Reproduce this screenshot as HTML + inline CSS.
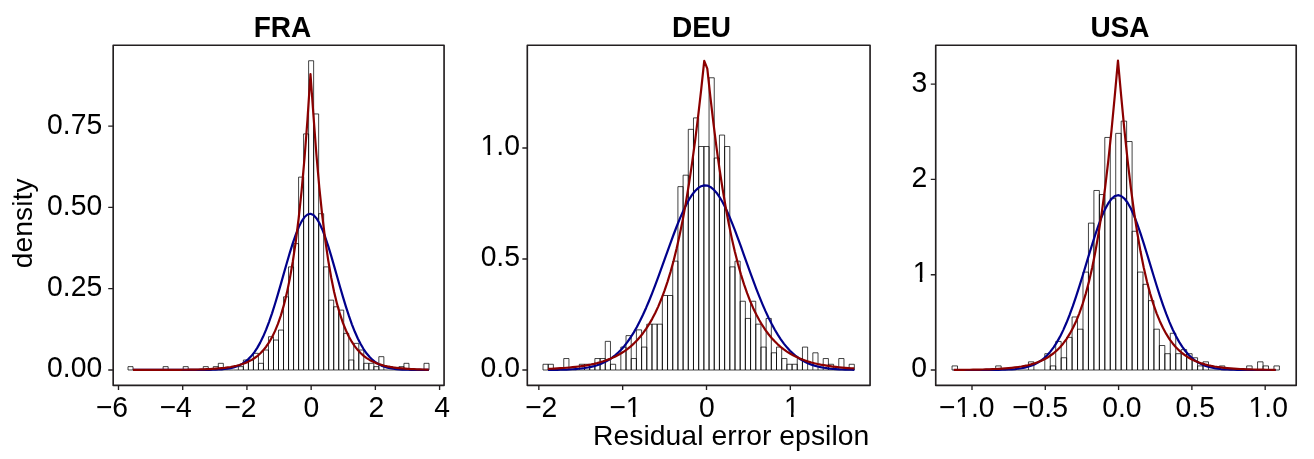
<!DOCTYPE html>
<html lang="en">
<head>
<meta charset="utf-8">
<title>Residual error densities</title>
<style>
html,body{margin:0;padding:0;background:#fff;}
body{width:1314px;height:459px;overflow:hidden;}
svg{display:block;}
</style>
</head>
<body>
<svg width="1314" height="459" viewBox="0 0 1314 459">
<rect width="1314" height="459" fill="#fff"/>
<defs><clipPath id="c_x2b" clipPathUnits="userSpaceOnUse"><path d="M-90 -40H90V-3.81 H-90ZM-90 -3.91H1.59V3H-90ZM7.46 -3.91H10.06V3H7.46ZM15.99 -3.91H90V3H15.99Z"/></clipPath><clipPath id="c_x2d" clipPathUnits="userSpaceOnUse"><path d="M-90 -40H90V-3.81 H-90ZM-90 -3.91H-6.67V3H-90ZM-0.8 -3.91H1.8V3H-0.8ZM7.73 -3.91H90V3H7.73Z"/></clipPath><clipPath id="c_x3a" clipPathUnits="userSpaceOnUse"><path d="M-90 -40H90V-3.81 H-90ZM-90 -3.91H-10.21V3H-90ZM-4.34 -3.91H-1.74V3H-4.34ZM4.19 -3.91H90V3H4.19Z"/></clipPath><clipPath id="c_x3e" clipPathUnits="userSpaceOnUse"><path d="M-90 -40H90V-3.81 H-90ZM-90 -3.91H-18.47V3H-90ZM-12.6 -3.91H-10V3H-12.6ZM-4.07 -3.91H90V3H-4.07Z"/></clipPath><clipPath id="c_y2c" clipPathUnits="userSpaceOnUse"><path d="M-90 -40H90V-3.81 H-90ZM-90 -3.91H-38.14V3H-90ZM-32.27 -3.91H-29.67V3H-32.27ZM-23.74 -3.91H90V3H-23.74Z"/></clipPath><clipPath id="c_y3b" clipPathUnits="userSpaceOnUse"><path d="M-90 -40H90V-3.81 H-90ZM-90 -3.91H-14.54V3H-90ZM-8.67 -3.91H-6.07V3H-8.67ZM-0.14 -3.91H90V3H-0.14Z"/></clipPath></defs>
<g>
<path d="M128 369.97h5.02v-3.33h-5.02zM133.02 369.97h5.02M138.03 369.97h5.02M143.05 369.97h5.02M148.07 369.97h5.02M153.09 369.97h5.02M158.1 369.97h5.02M163.12 369.97h5.02v-3.33h-5.02zM168.14 369.97h5.02M173.15 369.97h5.02M178.17 369.97h5.02M183.19 369.97h5.02v-3.33h-5.02zM188.2 369.97h5.02M193.22 369.97h5.02M198.24 369.97h5.02M203.25 369.97h5.02v-3.33h-5.02zM208.27 369.97h5.02M213.29 369.97h5.02v-3.33h-5.02zM218.31 369.97h5.02v-6.65h-5.02zM223.32 369.97h5.02M228.34 369.97h5.02M233.36 369.97h5.02M238.37 369.97h5.02v-3.33h-5.02zM243.39 369.97h5.02v-9.98h-5.02zM248.41 369.97h5.02v-9.98h-5.02zM253.43 369.97h5.02v-16.62h-5.02zM258.44 369.97h5.02v-6.65h-5.02zM263.46 369.97h5.02v-19.95h-5.02zM268.48 369.97h5.02v-33.25h-5.02zM273.49 369.97h5.02v-29.93h-5.02zM278.51 369.97h5.02v-39.9h-5.02zM283.53 369.97h5.02v-73.15h-5.02zM288.54 369.97h5.02v-103.08h-5.02zM293.56 369.97h5.02v-126.35h-5.02zM298.58 369.97h5.02v-192.85h-5.02zM303.6 369.97h5.02v-236.08h-5.02zM308.61 369.97h5.02v-309.23h-5.02zM313.63 369.97h5.02v-256.03h-5.02zM318.65 369.97h5.02v-156.28h-5.02zM323.66 369.97h5.02v-103.08h-5.02zM328.68 369.97h5.02v-69.83h-5.02zM333.7 369.97h5.02v-63.18h-5.02zM338.71 369.97h5.02v-59.85h-5.02zM343.73 369.97h5.02v-36.58h-5.02zM348.75 369.97h5.02v-9.98h-5.02zM353.76 369.97h5.02v-26.6h-5.02zM358.78 369.97h5.02v-19.95h-5.02zM363.8 369.97h5.02v-6.65h-5.02zM368.82 369.97h5.02v-6.65h-5.02zM373.83 369.97h5.02v-3.33h-5.02zM378.85 369.97h5.02v-13.3h-5.02zM383.87 369.97h5.02M388.88 369.97h5.02M393.9 369.97h5.02M398.92 369.97h5.02v-3.33h-5.02zM403.94 369.97h5.02v-6.65h-5.02zM408.95 369.97h5.02M413.97 369.97h5.02M418.99 369.97h5.02M424 369.97h5.02v-6.65h-5.02z" fill="#fff" stroke="#000" stroke-width="0.74" stroke-linejoin="miter"/>
<polyline points="133,369.95 135.96,369.95 138.92,369.95 141.87,369.95 144.83,369.95 147.79,369.95 150.75,369.95 153.71,369.95 156.66,369.95 159.62,369.95 162.58,369.95 165.54,369.95 168.5,369.95 171.45,369.95 174.41,369.95 177.37,369.95 180.33,369.95 183.29,369.95 186.24,369.95 189.2,369.94 192.16,369.94 195.12,369.94 198.08,369.93 201.03,369.91 203.99,369.89 206.95,369.86 209.91,369.81 212.87,369.74 215.82,369.64 218.78,369.5 221.74,369.29 224.7,369.01 227.66,368.62 230.61,368.08 233.57,367.37 236.53,366.43 239.49,365.2 242.45,363.62 245.4,361.63 248.36,359.13 251.32,356.06 254.28,352.33 257.24,347.88 260.19,342.63 263.15,336.56 266.11,329.63 269.07,321.86 272.03,313.3 274.98,304.02 277.94,294.15 280.9,283.88 283.86,273.41 286.82,262.98 289.77,252.88 292.73,243.38 295.69,234.79 298.65,227.37 301.61,221.38 304.56,217.03 307.52,214.47 310.48,213.8 313.44,215.04 316.4,218.15 319.35,223.01 322.31,229.45 325.27,237.25 328.23,246.15 331.19,255.86 334.14,266.09 337.1,276.56 340.06,286.99 343.02,297.16 345.98,306.87 348.93,315.94 351.89,324.28 354.85,331.8 357.81,338.47 360.77,344.29 363.72,349.29 366.68,353.52 369.64,357.04 372.6,359.93 375.56,362.27 378.51,364.14 381.47,365.6 384.43,366.74 387.39,367.61 390.35,368.26 393.3,368.75 396.26,369.1 399.22,369.36 402.18,369.55 405.14,369.68 408.09,369.77 411.05,369.83 414.01,369.87 416.97,369.9 419.93,369.92 422.88,369.93 425.84,369.94 428.8,369.94" fill="none" stroke="#00008b" stroke-width="2.2" stroke-linejoin="round" stroke-linecap="butt"/>
<polyline points="133,369.94 135.96,369.94 138.92,369.94 141.87,369.93 144.83,369.93 147.79,369.93 150.75,369.92 153.71,369.92 156.66,369.91 159.62,369.9 162.58,369.89 165.54,369.88 168.5,369.87 171.45,369.86 174.41,369.84 177.37,369.82 180.33,369.79 183.29,369.76 186.24,369.73 189.2,369.69 192.16,369.64 195.12,369.58 198.08,369.51 201.03,369.42 203.99,369.33 206.95,369.21 209.91,369.07 212.87,368.9 215.82,368.7 218.78,368.47 221.74,368.19 224.7,367.86 227.66,367.46 230.61,367 233.57,366.44 236.53,365.78 239.49,365 242.45,364.07 245.4,362.96 248.36,361.65 251.32,360.1 254.28,358.25 257.24,356.06 260.19,353.46 263.15,350.38 266.11,346.72 269.07,342.38 272.03,337.23 274.98,331.13 277.94,323.9 280.9,315.32 283.86,305.17 286.82,293.13 289.77,278.89 292.73,262.02 295.69,242.08 298.65,218.49 301.61,190.63 304.56,157.77 307.52,119.09 310.48,73.98 313.44,115.26 316.4,154.5 319.35,187.86 322.31,216.14 325.27,240.09 328.23,260.34 331.19,277.47 334.14,291.93 337.1,304.15 340.06,314.47 343.02,323.17 345.98,330.52 348.93,336.72 351.89,341.94 354.85,346.35 357.81,350.07 360.77,353.2 363.72,355.84 366.68,358.07 369.64,359.94 372.6,361.52 375.56,362.85 378.51,363.97 381.47,364.92 384.43,365.72 387.39,366.39 390.35,366.95 393.3,367.42 396.26,367.82 399.22,368.16 402.18,368.44 405.14,368.68 408.09,368.88 411.05,369.05 414.01,369.2 416.97,369.32 419.93,369.42 422.88,369.5 425.84,369.57 428.8,369.63" fill="none" stroke="#8b0000" stroke-width="2.2" stroke-linejoin="round" stroke-linecap="butt"/>
<rect x="113.18" y="45.2" width="330.89" height="340.2" fill="none" stroke="#231f20" stroke-width="1.65" stroke-linejoin="round"/>
<path d="M118.49 385.4v4.5M182.71 385.4v4.5M246.93 385.4v4.5M311.15 385.4v4.5M375.37 385.4v4.5M439.59 385.4v4.5M113.18 369.95h-4.95M113.18 288.65h-4.95M113.18 207.35h-4.95M113.18 126.05h-4.95" fill="none" stroke="#231f20" stroke-width="1.35"/>
</g>
<g>
<path d="M543 370h5.19v-5.73h-5.19zM548.19 370h5.19v-5.73h-5.19zM553.38 370h5.19M558.57 370h5.19M563.76 370h5.19v-11.46h-5.19zM568.95 370h5.19M574.13 370h5.19M579.32 370h5.19v-5.73h-5.19zM584.51 370h5.19v-5.73h-5.19zM589.7 370h5.19v-5.73h-5.19zM594.89 370h5.19v-11.46h-5.19zM600.08 370h5.19v-11.46h-5.19zM605.27 370h5.19v-28.65h-5.19zM610.46 370h5.19v-5.73h-5.19zM615.65 370h5.19M620.84 370h5.19v-22.92h-5.19zM626.02 370h5.19v-34.38h-5.19zM631.21 370h5.19v-11.46h-5.19zM636.4 370h5.19v-40.11h-5.19zM641.59 370h5.19v-22.92h-5.19zM646.78 370h5.19v-45.84h-5.19zM651.97 370h5.19v-45.84h-5.19zM657.16 370h5.19v-45.84h-5.19zM662.35 370h5.19v-74.49h-5.19zM667.54 370h5.19v-74.49h-5.19zM672.73 370h5.19v-108.87h-5.19zM677.91 370h5.19v-183.36h-5.19zM683.1 370h5.19v-194.82h-5.19zM688.29 370h5.19v-240.66h-5.19zM693.48 370h5.19v-252.12h-5.19zM698.67 370h5.19v-223.47h-5.19zM703.86 370h5.19v-223.47h-5.19zM709.05 370h5.19v-292.23h-5.19zM714.24 370h5.19v-212.01h-5.19zM719.43 370h5.19v-234.93h-5.19zM724.62 370h5.19v-223.47h-5.19zM729.8 370h5.19v-103.14h-5.19zM734.99 370h5.19v-108.87h-5.19zM740.18 370h5.19v-68.76h-5.19zM745.37 370h5.19v-51.57h-5.19zM750.56 370h5.19v-68.76h-5.19zM755.75 370h5.19v-45.84h-5.19zM760.94 370h5.19v-22.92h-5.19zM766.13 370h5.19v-51.57h-5.19zM771.32 370h5.19v-17.19h-5.19zM776.5 370h5.19v-22.92h-5.19zM781.69 370h5.19v-11.46h-5.19zM786.88 370h5.19v-5.73h-5.19zM792.07 370h5.19v-5.73h-5.19zM797.26 370h5.19v-11.46h-5.19zM802.45 370h5.19v-22.92h-5.19zM807.64 370h5.19M812.83 370h5.19v-17.19h-5.19zM818.02 370h5.19M823.21 370h5.19v-11.46h-5.19zM828.39 370h5.19v-5.73h-5.19zM833.58 370h5.19M838.77 370h5.19v-11.46h-5.19zM843.96 370h5.19M849.15 370h5.19v-5.73h-5.19z" fill="#fff" stroke="#000" stroke-width="0.74" stroke-linejoin="miter"/>
<polyline points="548.06,369.92 551.12,369.89 554.18,369.85 557.25,369.8 560.31,369.74 563.37,369.66 566.43,369.55 569.5,369.42 572.56,369.24 575.62,369.03 578.68,368.76 581.75,368.42 584.81,368.01 587.87,367.5 590.93,366.87 594,366.12 597.06,365.21 600.12,364.13 603.18,362.84 606.25,361.32 609.31,359.54 612.37,357.47 615.43,355.08 618.5,352.33 621.56,349.2 624.62,345.66 627.68,341.68 630.74,337.25 633.81,332.34 636.87,326.95 639.93,321.08 642.99,314.74 646.06,307.93 649.12,300.7 652.18,293.07 655.24,285.11 658.31,276.87 661.37,268.44 664.43,259.88 667.49,251.3 670.56,242.81 673.62,234.5 676.68,226.5 679.74,218.92 682.81,211.86 685.87,205.45 688.93,199.78 691.99,194.94 695.06,191.02 698.12,188.09 701.18,186.19 704.24,185.35 707.3,185.6 710.37,186.93 713.43,189.32 716.49,192.71 719.55,197.06 722.62,202.3 725.68,208.32 728.74,215.04 731.8,222.36 734.87,230.15 737.93,238.31 740.99,246.71 744.05,255.26 747.12,263.84 750.18,272.35 753.24,280.71 756.3,288.83 759.37,296.64 762.43,304.09 765.49,311.13 768.55,317.72 771.62,323.85 774.68,329.5 777.74,334.67 780.8,339.35 783.86,343.57 786.93,347.35 789.99,350.7 793.05,353.65 796.11,356.23 799.18,358.47 802.24,360.4 805.3,362.06 808.36,363.46 811.43,364.65 814.49,365.65 817.55,366.49 820.61,367.18 823.68,367.74 826.74,368.21 829.8,368.59 832.86,368.89 835.93,369.13 838.99,369.33 842.05,369.48 845.11,369.6 848.18,369.7 851.24,369.77 854.3,369.83" fill="none" stroke="#00008b" stroke-width="2.2" stroke-linejoin="round" stroke-linecap="butt"/>
<polyline points="548.06,368.87 551.12,368.73 554.18,368.58 557.25,368.41 560.31,368.21 563.37,368 566.43,367.76 569.5,367.49 572.56,367.19 575.62,366.85 578.68,366.47 581.75,366.05 584.81,365.58 587.87,365.05 590.93,364.47 594,363.81 597.06,363.07 600.12,362.25 603.18,361.32 606.25,360.3 609.31,359.15 612.37,357.86 615.43,356.43 618.5,354.83 621.56,353.04 624.62,351.05 627.68,348.82 630.74,346.34 633.81,343.57 636.87,340.48 639.93,337.03 642.99,333.19 646.06,328.91 649.12,324.15 652.18,318.84 655.24,312.93 658.31,306.35 661.37,299.04 664.43,290.9 667.49,281.86 670.56,271.82 673.62,260.67 676.68,248.31 679.74,234.6 682.81,219.42 685.87,202.63 688.93,184.07 691.99,163.62 695.06,141.11 698.12,116.44 701.18,89.57 704.24,60.78 707.3,68.56 710.37,96.92 713.43,123.21 716.49,147.3 719.55,169.24 722.62,189.18 725.68,207.25 728.74,223.6 731.8,238.38 734.87,251.72 737.93,263.75 740.99,274.59 744.05,284.36 747.12,293.15 750.18,301.06 753.24,308.17 756.3,314.56 759.37,320.31 762.43,325.46 765.49,330.1 768.55,334.25 771.62,337.98 774.68,341.33 777.74,344.33 780.8,347.02 783.86,349.44 786.93,351.6 789.99,353.54 793.05,355.27 796.11,356.83 799.18,358.22 802.24,359.46 805.3,360.58 808.36,361.58 811.43,362.47 814.49,363.27 817.55,363.99 820.61,364.63 823.68,365.2 826.74,365.71 829.8,366.17 832.86,366.58 835.93,366.94 838.99,367.27 842.05,367.56 845.11,367.83 848.18,368.06 851.24,368.27 854.3,368.45" fill="none" stroke="#8b0000" stroke-width="2.2" stroke-linejoin="round" stroke-linecap="butt"/>
<rect x="527.3" y="45.2" width="342.77" height="340.2" fill="none" stroke="#231f20" stroke-width="1.65" stroke-linejoin="round"/>
<path d="M538.84 385.4v4.5M622.67 385.4v4.5M706.5 385.4v4.5M790.33 385.4v4.5M527.3 370.03h-4.95M527.3 259.03h-4.95M527.3 148.03h-4.95" fill="none" stroke="#231f20" stroke-width="1.35"/>
</g>
<g>
<path d="M952.05 370h5.46v-4.08h-5.46zM957.51 370h5.46M962.96 370h5.46M968.42 370h5.46M973.87 370h5.46M979.33 370h5.46M984.78 370h5.46M990.24 370h5.46M995.7 370h5.46v-4.08h-5.46zM1001.15 370h5.46M1006.61 370h5.46M1012.06 370h5.46M1017.52 370h5.46M1022.98 370h5.46M1028.43 370h5.46v-8.16h-5.46zM1033.89 370h5.46M1039.34 370h5.46M1044.8 370h5.46v-16.32h-5.46zM1050.25 370h5.46v-4.08h-5.46zM1055.71 370h5.46v-28.56h-5.46zM1061.17 370h5.46v-12.24h-5.46zM1066.62 370h5.46v-32.64h-5.46zM1072.08 370h5.46v-53.04h-5.46zM1077.53 370h5.46v-40.8h-5.46zM1082.99 370h5.46v-97.92h-5.46zM1088.44 370h5.46v-146.88h-5.46zM1093.9 370h5.46v-179.52h-5.46zM1099.36 370h5.46v-175.44h-5.46zM1104.81 370h5.46v-232.56h-5.46zM1110.27 370h5.46v-171.36h-5.46zM1115.72 370h5.46v-236.64h-5.46zM1121.18 370h5.46v-248.88h-5.46zM1126.64 370h5.46v-228.48h-5.46zM1132.09 370h5.46v-138.72h-5.46zM1137.55 370h5.46v-97.92h-5.46zM1143 370h5.46v-85.68h-5.46zM1148.46 370h5.46v-69.36h-5.46zM1153.91 370h5.46v-40.8h-5.46zM1159.37 370h5.46v-24.48h-5.46zM1164.83 370h5.46v-16.32h-5.46zM1170.28 370h5.46v-36.72h-5.46zM1175.74 370h5.46v-16.32h-5.46zM1181.19 370h5.46v-20.4h-5.46zM1186.65 370h5.46v-16.32h-5.46zM1192.11 370h5.46v-12.24h-5.46zM1197.56 370h5.46v-4.08h-5.46zM1203.02 370h5.46v-8.16h-5.46zM1208.47 370h5.46M1213.93 370h5.46M1219.38 370h5.46v-4.08h-5.46zM1224.84 370h5.46M1230.3 370h5.46M1235.75 370h5.46M1241.21 370h5.46M1246.66 370h5.46v-4.08h-5.46zM1252.12 370h5.46M1257.57 370h5.46v-8.16h-5.46zM1263.03 370h5.46v-4.08h-5.46zM1268.49 370h5.46M1273.94 370h5.46v-4.08h-5.46z" fill="#fff" stroke="#000" stroke-width="0.74" stroke-linejoin="miter"/>
<polyline points="953.8,370 957.02,370 960.24,370 963.46,370 966.68,370 969.89,370 973.11,369.99 976.33,369.99 979.55,369.99 982.77,369.98 985.99,369.97 989.21,369.95 992.43,369.93 995.65,369.89 998.87,369.84 1002.08,369.76 1005.3,369.66 1008.52,369.52 1011.74,369.32 1014.96,369.06 1018.18,368.7 1021.4,368.23 1024.62,367.61 1027.84,366.8 1031.06,365.77 1034.28,364.45 1037.49,362.81 1040.71,360.77 1043.93,358.27 1047.15,355.24 1050.37,351.63 1053.59,347.35 1056.81,342.37 1060.03,336.64 1063.25,330.12 1066.46,322.81 1069.68,314.72 1072.9,305.9 1076.12,296.43 1079.34,286.42 1082.56,276 1085.78,265.36 1089,254.69 1092.22,244.22 1095.44,234.18 1098.65,224.83 1101.87,216.41 1105.09,209.14 1108.31,203.23 1111.53,198.86 1114.75,196.14 1117.97,195.18 1121.19,195.99 1124.41,198.54 1127.63,202.77 1130.85,208.55 1134.06,215.7 1137.28,224.03 1140.5,233.31 1143.72,243.29 1146.94,253.74 1150.16,264.4 1153.38,275.05 1156.6,285.5 1159.82,295.55 1163.04,305.08 1166.25,313.96 1169.47,322.11 1172.69,329.49 1175.91,336.08 1179.13,341.89 1182.35,346.94 1185.57,351.27 1188.79,354.94 1192.01,358.02 1195.22,360.56 1198.44,362.64 1201.66,364.32 1204.88,365.66 1208.1,366.72 1211.32,367.54 1214.54,368.18 1217.76,368.66 1220.98,369.03 1224.2,369.3 1227.41,369.5 1230.63,369.65 1233.85,369.76 1237.07,369.83 1240.29,369.89 1243.51,369.92 1246.73,369.95 1249.95,369.97 1253.17,369.98 1256.39,369.99 1259.61,369.99 1262.82,369.99 1266.04,370 1269.26,370 1272.48,370 1275.7,370" fill="none" stroke="#00008b" stroke-width="2.2" stroke-linejoin="round" stroke-linecap="butt"/>
<polyline points="953.8,369.88 957.02,369.86 960.24,369.84 963.46,369.81 966.68,369.77 969.89,369.73 973.11,369.68 976.33,369.63 979.55,369.56 982.77,369.49 985.99,369.4 989.21,369.29 992.43,369.17 995.65,369.02 998.87,368.85 1002.08,368.65 1005.3,368.42 1008.52,368.15 1011.74,367.83 1014.96,367.45 1018.18,367.01 1021.4,366.5 1024.62,365.9 1027.84,365.2 1031.06,364.38 1034.28,363.42 1037.49,362.31 1040.71,361 1043.93,359.49 1047.15,357.71 1050.37,355.65 1053.59,353.25 1056.81,350.45 1060.03,347.2 1063.25,343.43 1066.46,339.04 1069.68,333.95 1072.9,328.05 1076.12,321.22 1079.34,313.31 1082.56,304.16 1085.78,293.61 1089,281.44 1092.22,267.44 1095.44,251.35 1098.65,232.91 1101.87,211.83 1105.09,187.82 1108.31,160.61 1111.53,130.02 1114.75,96.11 1117.97,60.62 1121.19,96.09 1124.41,130 1127.63,160.6 1130.85,187.8 1134.06,211.81 1137.28,232.89 1140.5,251.34 1143.72,267.43 1146.94,281.43 1150.16,293.6 1153.38,304.16 1156.6,313.3 1159.82,321.21 1163.04,328.05 1166.25,333.95 1169.47,339.04 1172.69,343.43 1175.91,347.2 1179.13,350.45 1182.35,353.25 1185.57,355.65 1188.79,357.71 1192.01,359.48 1195.22,361 1198.44,362.31 1201.66,363.42 1204.88,364.38 1208.1,365.2 1211.32,365.9 1214.54,366.5 1217.76,367.01 1220.98,367.45 1224.2,367.83 1227.41,368.15 1230.63,368.42 1233.85,368.65 1237.07,368.85 1240.29,369.02 1243.51,369.17 1246.73,369.29 1249.95,369.4 1253.17,369.49 1256.39,369.56 1259.61,369.63 1262.82,369.68 1266.04,369.73 1269.26,369.77 1272.48,369.81 1275.7,369.84" fill="none" stroke="#8b0000" stroke-width="2.2" stroke-linejoin="round" stroke-linecap="butt"/>
<rect x="935.73" y="45.2" width="360.47" height="340.2" fill="none" stroke="#231f20" stroke-width="1.65" stroke-linejoin="round"/>
<path d="M972 385.4v4.5M1045.29 385.4v4.5M1118.59 385.4v4.5M1191.88 385.4v4.5M1265.18 385.4v4.5M935.73 370h-4.95M935.73 274.71h-4.95M935.73 179.42h-4.95M935.73 84.13h-4.95" fill="none" stroke="#231f20" stroke-width="1.35"/>
</g>
<text transform="translate(282.47,36.6) scale(1,1.04)" text-anchor="middle" font-size="28" font-weight="bold" font-family="Liberation Sans, Arial, Helvetica, sans-serif" fill="#000">FRA</text>
<text transform="translate(701.51,36.6) scale(1,1.04)" text-anchor="middle" font-size="28" font-weight="bold" font-family="Liberation Sans, Arial, Helvetica, sans-serif" fill="#000">DEU</text>
<text transform="translate(1119.94,36.6) scale(1,1.04)" text-anchor="middle" font-size="28" font-weight="bold" font-family="Liberation Sans, Arial, Helvetica, sans-serif" fill="#000">USA</text>
<text transform="translate(111.82,416.5) scale(1,1.04)" text-anchor="middle" font-size="28.3" font-family="Liberation Sans, Arial, Helvetica, sans-serif" fill="#000">−6</text>
<text transform="translate(175.72,416.5) scale(1,1.04)" text-anchor="middle" font-size="28.3" font-family="Liberation Sans, Arial, Helvetica, sans-serif" fill="#000">−4</text>
<text transform="translate(240.48,416.5) scale(1,1.04)" text-anchor="middle" font-size="28.3" font-family="Liberation Sans, Arial, Helvetica, sans-serif" fill="#000">−2</text>
<text transform="translate(311.38,416.5) scale(1,1.04)" text-anchor="middle" font-size="28.3" font-family="Liberation Sans, Arial, Helvetica, sans-serif" fill="#000">0</text>
<text transform="translate(376.4,416.5) scale(1,1.04)" text-anchor="middle" font-size="28.3" font-family="Liberation Sans, Arial, Helvetica, sans-serif" fill="#000">2</text>
<text transform="translate(442.05,416.5) scale(1,1.04)" text-anchor="middle" font-size="28.3" font-family="Liberation Sans, Arial, Helvetica, sans-serif" fill="#000">4</text>
<text transform="translate(541.04,416.5) scale(1,1.04)" text-anchor="middle" font-size="28.3" font-family="Liberation Sans, Arial, Helvetica, sans-serif" fill="#000">−2</text>
<text transform="translate(625.46,416.5) scale(1,1.04)" text-anchor="middle" font-size="28.3" clip-path="url(#c_x2b)" font-family="Liberation Sans, Arial, Helvetica, sans-serif" fill="#000">−1</text>
<text transform="translate(706.94,416.5) scale(1,1.04)" text-anchor="middle" font-size="28.3" font-family="Liberation Sans, Arial, Helvetica, sans-serif" fill="#000">0</text>
<text transform="translate(791.82,416.5) scale(1,1.04)" text-anchor="middle" font-size="28.3" clip-path="url(#c_x2d)" font-family="Liberation Sans, Arial, Helvetica, sans-serif" fill="#000">1</text>
<text transform="translate(966.68,416.5) scale(1,1.04)" text-anchor="middle" font-size="28.3" clip-path="url(#c_x3a)" font-family="Liberation Sans, Arial, Helvetica, sans-serif" fill="#000">−1.0</text>
<text transform="translate(1039.96,416.5) scale(1,1.04)" text-anchor="middle" font-size="28.3" font-family="Liberation Sans, Arial, Helvetica, sans-serif" fill="#000">−0.5</text>
<text transform="translate(1121.82,416.5) scale(1,1.04)" text-anchor="middle" font-size="28.3" font-family="Liberation Sans, Arial, Helvetica, sans-serif" fill="#000">0.0</text>
<text transform="translate(1195.21,416.5) scale(1,1.04)" text-anchor="middle" font-size="28.3" font-family="Liberation Sans, Arial, Helvetica, sans-serif" fill="#000">0.5</text>
<text transform="translate(1268.27,416.5) scale(1,1.04)" text-anchor="middle" font-size="28.3" clip-path="url(#c_x3e)" font-family="Liberation Sans, Arial, Helvetica, sans-serif" fill="#000">1.0</text>
<text transform="translate(102.15,377.4) scale(1,1.04)" text-anchor="end" font-size="28.3" font-family="Liberation Sans, Arial, Helvetica, sans-serif" fill="#000">0.00</text>
<text transform="translate(102.17,296.1) scale(1,1.04)" text-anchor="end" font-size="28.3" font-family="Liberation Sans, Arial, Helvetica, sans-serif" fill="#000">0.25</text>
<text transform="translate(102.15,214.8) scale(1,1.04)" text-anchor="end" font-size="28.3" font-family="Liberation Sans, Arial, Helvetica, sans-serif" fill="#000">0.50</text>
<text transform="translate(102.17,133.5) scale(1,1.04)" text-anchor="end" font-size="28.3" font-family="Liberation Sans, Arial, Helvetica, sans-serif" fill="#000">0.75</text>
<text transform="translate(519.88,377.48) scale(1,1.04)" text-anchor="end" font-size="28.3" font-family="Liberation Sans, Arial, Helvetica, sans-serif" fill="#000">0.0</text>
<text transform="translate(519.97,266.48) scale(1,1.04)" text-anchor="end" font-size="28.3" font-family="Liberation Sans, Arial, Helvetica, sans-serif" fill="#000">0.5</text>
<text transform="translate(519.88,155.48) scale(1,1.04)" text-anchor="end" font-size="28.3" clip-path="url(#c_y2c)" font-family="Liberation Sans, Arial, Helvetica, sans-serif" fill="#000">1.0</text>
<text transform="translate(926.88,377.45) scale(1,1.04)" text-anchor="end" font-size="28.3" font-family="Liberation Sans, Arial, Helvetica, sans-serif" fill="#000">0</text>
<text transform="translate(928.46,282.16) scale(1,1.04)" text-anchor="end" font-size="28.3" clip-path="url(#c_y3b)" font-family="Liberation Sans, Arial, Helvetica, sans-serif" fill="#000">1</text>
<text transform="translate(927.15,186.87) scale(1,1.04)" text-anchor="end" font-size="28.3" font-family="Liberation Sans, Arial, Helvetica, sans-serif" fill="#000">2</text>
<text transform="translate(927.15,91.58) scale(1,1.04)" text-anchor="end" font-size="28.3" font-family="Liberation Sans, Arial, Helvetica, sans-serif" fill="#000">3</text>
<text x="593.0" y="444.9" textLength="276.3" lengthAdjust="spacing" font-size="28.3" font-family="Liberation Sans, Arial, Helvetica, sans-serif" fill="#000">Residual error epsilon</text>
<text transform="translate(32.0,223.3) rotate(-90)" text-anchor="middle" font-size="28.3" font-family="Liberation Sans, Arial, Helvetica, sans-serif" fill="#000">density</text>
</svg>
</body>
</html>
